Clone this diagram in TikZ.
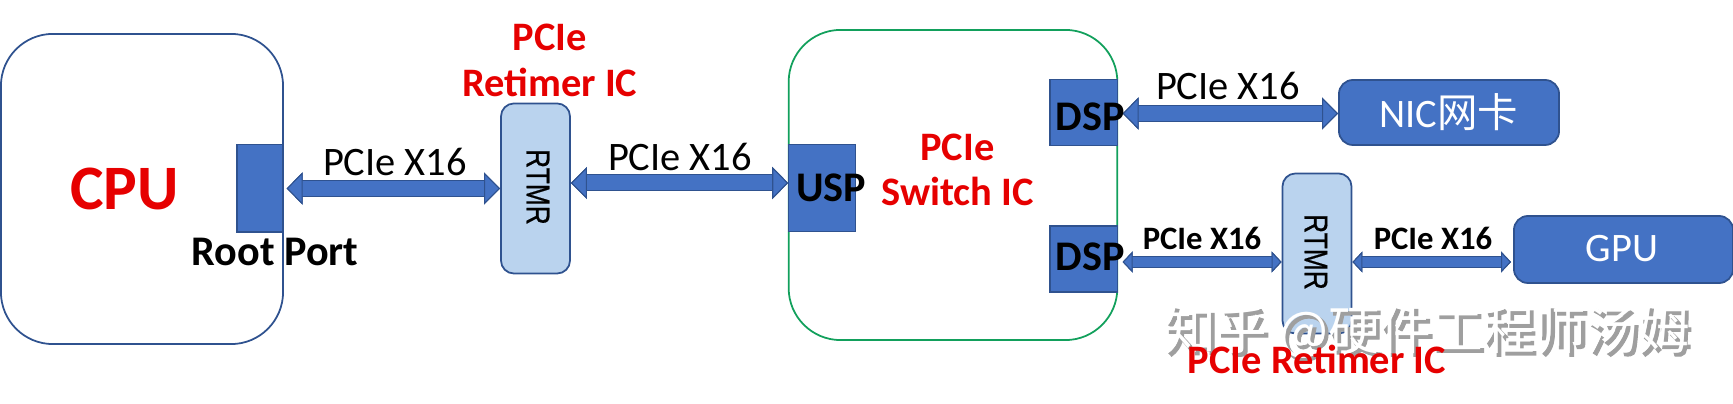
\documentclass[tikz,border=0pt]{standalone}
\usepackage{fontspec}
\setmainfont{Carlito}
\newfontfamily\cjk{Noto Sans CJK SC}
\newfontfamily\cjkheavy[FakeBold=2]{Noto Sans CJK SC}
\newfontfamily\arialfont[FakeBold=0.6]{Liberation Sans}
\usepackage{xcolor}
\usepackage{graphicx}
\usetikzlibrary{calc,arrows.meta}
\definecolor{portblue}{HTML}{4472C4}
\definecolor{edgeblue}{HTML}{2F528F}
\definecolor{rtmrblue}{HTML}{BAD3EE}
\definecolor{swgreen}{HTML}{12A05C}
\definecolor{icred}{HTML}{E60000}
\tikzset{
  chipbox/.style={draw=#1,line width=0.5pt,rounded corners=0.52cm,inner sep=0pt},
  portbox/.style={fill=portblue,draw=edgeblue,line width=0.3pt,inner sep=0pt},
  rtmrbox/.style={fill=rtmrblue,draw=edgeblue,line width=0.5pt,rounded corners=0.13cm,inner sep=0pt,
    minimum width=0.69cm},
  devbox/.style={fill=portblue,draw=edgeblue,line width=0.5pt,rounded corners=0.14cm,inner sep=0pt},
  biglink/.style={draw=portblue,line width=0.15cm,preaction={draw=edgeblue,line width=0.17cm},
    {Triangle[length=0.16cm,width=0.32cm,line width=0.3pt,fill=portblue,color=edgeblue]}-{Triangle[length=0.16cm,width=0.32cm,line width=0.3pt,fill=portblue,color=edgeblue]}},
  smalllink/.style={draw=portblue,line width=0.10cm,preaction={draw=edgeblue,line width=0.12cm},
    {Triangle[length=0.1cm,width=0.21cm,line width=0.3pt,fill=portblue,color=edgeblue]}-{Triangle[length=0.1cm,width=0.21cm,line width=0.3pt,fill=portblue,color=edgeblue]}},
  lbl/.style={inner sep=0pt,font=\fontsize{11.5}{12}\selectfont},
  lblsmall/.style={inner sep=0pt,font=\fontsize{9.3}{10}\selectfont\bfseries},
  redlbl/.style={inner sep=0pt,text=icred,font=\fontsize{11.5}{12}\selectfont\bfseries},
  blacklbl/.style={inner sep=0pt,font=\fontsize{12}{12}\selectfont\bfseries},
  rtmrlbl/.style={inner sep=0pt,rotate=-90,font=\fontsize{7.5}{8}\selectfont\arialfont},
}
\begin{document}
\begin{tikzpicture}[x=0.01cm,y=-0.01cm]
  \useasboundingbox (0,0) rectangle (1733,404);

  % Chips
  \node[chipbox=edgeblue,minimum width=2.82cm,minimum height=3.10cm] (CPU) at (142,189) {};
  \node[chipbox=swgreen,minimum width=3.285cm,minimum height=3.10cm] (SW) at (953,185) {};

  % Ports
  \node[portbox,minimum width=0.46cm,minimum height=0.87cm] (RP) at (260,188.5) {};
  \node[portbox,minimum width=0.665cm,minimum height=0.87cm] (USP) at (822,188) {};
  \node[portbox,minimum width=0.67cm,minimum height=0.66cm] (DSPa) at (1083.5,112.5) {};
  \node[portbox,minimum width=0.67cm,minimum height=0.66cm] (DSPb) at (1083.5,259) {};

  % Retimers
  \node[rtmrbox,minimum height=1.70cm] (RTa) at (535.5,188.5) {};
  \node[rtmrbox,minimum height=1.60cm] (RTb) at (1317,253.5) {};

  % Devices
  \node[devbox,minimum width=2.20cm,minimum height=0.65cm] (NIC) at (1449,112.5) {};
  \node[devbox,minimum width=2.19cm,minimum height=0.67cm] (GPU) at (1623.5,249.5) {};

  % Links
  \draw[biglink,shorten <=0.03cm] (RP.east) -- (RTa.west);
  \draw[biglink] ($(RTa.east)+(0,-5.5)$) -- ($(USP.west)+(0,-5)$);
  \draw[biglink,shorten <=0.05cm] ($(DSPa.east)+(0,1)$) -- ($(NIC.west)+(0,1)$);
  \draw[smalllink,shorten <=0.05cm] ($(DSPb.east)+(0,3)$) -- ($(RTb.west)+(0,8.5)$);
  \draw[smalllink,shorten >=0.02cm] ($(RTb.east)+(0,8.5)$) -- ($(GPU.west)+(0,12.5)$);

  % Labels
  \node[lbl] (Xa) at (395,162) {PCIe X16};
  \node[lbl] (Xb) at (680,157) {PCIe X16};
  \node[lbl] (Xc) at (1228,86) {PCIe X16};
  \node[lblsmall] (Xd) at (1202,238) {PCIe X16};
  \node[lblsmall] (Xe) at (1433,238) {PCIe X16};
  \node[inner sep=0pt,text=icred,font=\fontsize{18}{18}\selectfont\bfseries] (CPUl) at (124.5,189) {CPU};
  \node[blacklbl] (RPl) at (275,252) {Root Port};
  \node[blacklbl] (USPl) at (831,188) {USP};
  \node[blacklbl] (DSPal) at (1090,117) {DSP};
  \node[blacklbl] (DSPbl) at (1090,257) {DSP};
  \node[redlbl] (RTat) at (550,37) {PCIe};
  \node[redlbl] (RTaf) at (550,82) {Retimer IC};
  \node[redlbl] (SWt) at (957.5,147) {PCIe};
  \node[redlbl] (SWf) at (957.5,191) {Switch IC};
  \node[rtmrlbl] (RTal) at (538,187) {\scalebox{1}[1.25]{RTMR}};
  \node[rtmrlbl] (RTbl2) at (1316,252) {\scalebox{1}[1.25]{RTMR}};
  \node[lbl,text=white] (NICl) at (1449,112) {NIC{\cjk 网卡}};
  \node[lbl,text=white] (GPUl) at (1622,249) {GPU};

  % Watermark
  \node[inner sep=0pt,text=gray!75,font=\fontsize{14.7}{15}\selectfont\cjkheavy] (WMs) at (1430,335) {知乎 @硬件工程师汤姆};
  \node[inner sep=0pt,text=white,font=\fontsize{14.7}{15}\selectfont\cjk] (WM) at (1427,332) {知乎 @硬件工程师汤姆};
  \node[redlbl] (RTbl) at (1317,359) {PCIe Retimer IC};
\end{tikzpicture}
\end{document}
